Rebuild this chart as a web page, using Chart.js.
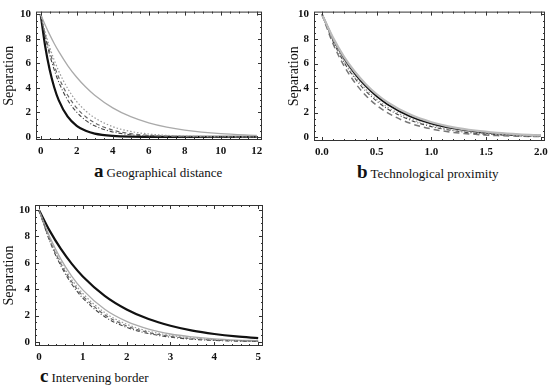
<!DOCTYPE html>
<html><head><meta charset="utf-8">
<script src="https://cdn.jsdelivr.net/npm/chart.js@4"></script>
<style>
body{margin:0;background:#fff;width:553px;height:385px;position:relative;overflow:hidden;font-family:"Liberation Serif","DejaVu Serif",serif;}
.pane{position:absolute;}
.cap{position:absolute;font-size:13px;color:#111;white-space:nowrap;line-height:20px;}
.cap b{font-size:19px;margin-right:3px;}
</style></head><body>
<div class="pane" style="left:0;top:0;width:276px;height:160px"><canvas id="ga"></canvas></div>
<div class="pane" style="left:276px;top:0;width:277px;height:160px"><canvas id="gb"></canvas></div>
<div class="pane" style="left:0;top:190px;width:276px;height:175px"><canvas id="gc"></canvas></div>
<div class="cap" style="left:94px;top:161px"><b>a</b>Geographical distance</div>
<div class="cap" style="left:357px;top:162px"><b>b</b>Technological proximity</div>
<div class="cap" style="left:40px;top:366px"><b>c</b>Intervening border</div>
<script>
// panel a: geographical distance
const xA = [0,0.25,0.5,0.75,1,1.5,2,2.5,3,4,5,6,7,8,10,12];
const aBlack   = [10,7.40,5.48,4.06,3.01,1.65,0.91,0.50,0.27,0.08,0.02,0.01,0,0,0,0];
const aGray    = [10,9.14,8.35,7.63,6.98,5.83,4.87,4.07,3.40,2.37,1.65,1.15,0.80,0.56,0.27,0.13];
const aDotted  = [10,8.56,7.33,6.28,5.38,3.95,2.89,2.12,1.56,0.84,0.45,0.24,0.13,0.07,0.02,0.01];
const aDashed  = [10,8.35,6.98,5.83,4.87,3.40,2.37,1.65,1.15,0.56,0.27,0.13,0.06,0.03,0.01,0];
const aDashDot = [10,8.19,6.70,5.49,4.49,3.01,2.02,1.35,0.91,0.41,0.18,0.08,0.04,0.02,0,0];

// panel b: technological proximity
const xB = [0,0.1,0.2,0.3,0.4,0.5,0.6,0.8,1.0,1.2,1.4,1.6,1.8,2.0];
const bBlack   = [10,8.03,6.44,5.17,4.15,3.33,2.67,1.72,1.11,0.71,0.46,0.30,0.19,0.12];
const bGray    = [10,8.11,6.57,5.33,4.32,3.50,2.84,1.86,1.22,0.80,0.53,0.35,0.23,0.15];
const bDotted  = [10,7.90,6.25,4.94,3.91,3.09,2.44,1.53,0.95,0.60,0.37,0.23,0.15,0.09];
const bDashDot = [10,7.83,6.13,4.80,3.75,2.94,2.30,1.41,0.86,0.53,0.32,0.20,0.12,0.07];
const bDashed  = [10,7.63,5.83,4.45,3.40,2.59,1.98,1.15,0.67,0.39,0.23,0.13,0.08,0.05];

// panel c: intervening border
const xC = [0,0.25,0.5,0.75,1,1.5,2,2.5,3,3.5,4,4.5,5];
const cBlack   = [10,8.40,7.05,5.92,4.97,3.50,2.47,1.74,1.23,0.86,0.61,0.43,0.30];
const cGray    = [10,7.93,6.28,4.98,3.95,2.48,1.56,0.98,0.61,0.39,0.24,0.15,0.10];
const cDotted  = [10,7.79,6.07,4.72,3.68,2.23,1.35,0.82,0.50,0.30,0.18,0.11,0.07];
const cDashed  = [10,7.69,5.92,4.55,3.50,2.07,1.22,0.72,0.43,0.25,0.15,0.09,0.05];
const cDashDot = [10,7.60,5.77,4.38,3.33,1.92,1.11,0.64,0.37,0.21,0.12,0.07,0.04];

// ticks
const sepTicks = [0,2,4,6,8,10];
const aXTicks = [0,2,4,6,8,10,12];
const bXTicks = [0,0.5,1,1.5,2];
const bXLabels = ["0.0","0.5","1.0","1.5","2.0"];
const cXTicks = [0,1,2,3,4,5];

const serif = "'Liberation Serif', 'DejaVu Serif', serif";
const pts = (xs, ys) => xs.map((x, i) => ({x, y: ys[i]}));
const styles = {
  black:   {borderColor:"#111", borderWidth:2.2},
  blackB:  {borderColor:"#111", borderWidth:1.8},
  gray:    {borderColor:"#aaa", borderWidth:1.3},
  grayB:   {borderColor:"#bbb", borderWidth:2.2},
  dotted:  {borderColor:"#999", borderWidth:1.2, borderDash:[1.5,2]},
  dashed:  {borderColor:"#666", borderWidth:1.2, borderDash:[4,3]},
  dashedB: {borderColor:"#777", borderWidth:1.5, borderDash:[6,4]},
  dashDot: {borderColor:"#444", borderWidth:1.1, borderDash:[4,2,1,2]}
};

// frame with inward ticks on all four sides
const framePlugin = {
  id: "frame",
  afterDraw(chart, args, o) {
    const {ctx, chartArea: a, scales: {x, y}} = chart;
    ctx.save();
    ctx.strokeStyle = "#333";
    ctx.lineWidth = 1;
    ctx.strokeRect(a.left + 0.5, a.top + 0.5, a.right - a.left - 1, a.bottom - a.top - 1);
    const marks = (scale, n, fn) => {
      const t = scale.ticks.map(k => k.value);
      const step = t[1] - t[0];
      for (let i = -n; i <= (t.length) * n; i++) {
        const v = t[0] + i * step / n;
        if (v < scale.min || v > scale.max) continue;
        fn(Math.round(scale.getPixelForValue(v)) + 0.5, i % n === 0 ? 4 : 2);
      }
    };
    ctx.beginPath();
    marks(x, o.nx || 5, (p, l) => {
      ctx.moveTo(p, a.bottom); ctx.lineTo(p, a.bottom - l);
      ctx.moveTo(p, a.top); ctx.lineTo(p, a.top + l);
    });
    marks(y, o.ny || 4, (p, l) => {
      ctx.moveTo(a.left, p); ctx.lineTo(a.left + l, p);
      ctx.moveTo(a.right, p); ctx.lineTo(a.right - l, p);
    });
    ctx.stroke();
    ctx.restore();
  }
};

const tickFont = {family: serif, weight: "bold", size: 11};

function makeChart(id, cfg) {
  new Chart(document.getElementById(id), {
    type: "line",
    data: {datasets: cfg.series.map(([xs, ys, st]) => Object.assign({
      data: pts(xs, ys), pointRadius: 0, fill: false, cubicInterpolationMode: "monotone"
    }, styles[st]))},
    options: {
      responsive: true, maintainAspectRatio: false, animation: false,
      layout: {padding: cfg.pad},
      plugins: {legend: {display: false}, tooltip: {enabled: false}, frame: {nx: cfg.nx, ny: 4}},
      scales: {
        x: {
          type: "linear", min: cfg.xmin, max: cfg.xmax,
          afterBuildTicks: s => { s.ticks = cfg.xticks.map(v => ({value: v})); },
          afterFit: s => { s.height = cfg.xh; },
          grid: {display: false, drawTicks: false}, border: {display: false},
          ticks: {font: tickFont, color: "#111", padding: 5, maxRotation: 0, autoSkip: false,
                  callback: (v, i) => cfg.xlabels ? cfg.xlabels[i] : v}
        },
        y: {
          min: cfg.ymin, max: cfg.ymax,
          afterBuildTicks: s => { s.ticks = sepTicks.map(v => ({value: v})); },
          afterFit: s => { s.width = cfg.yw; },
          grid: {display: false, drawTicks: false}, border: {display: false},
          ticks: {font: tickFont, color: "#111", padding: 5},
          title: {display: true, text: "Separation", color: "#111",
                  font: {family: serif, size: 14}, padding: {top: cfg.tpad, bottom: 0}}
        }
      }
    },
    plugins: [framePlugin]
  });
}

makeChart("ga", {
  series: [[xA, aGray, "gray"], [xA, aDotted, "dotted"], [xA, aDashed, "dashed"],
           [xA, aDashDot, "dashDot"], [xA, aBlack, "black"]],
  xmin: -0.26, xmax: 12.29, ymin: -0.25, ymax: 10.23, xticks: aXTicks, nx: 4,
  pad: {top: 3, right: 14, left: 0, bottom: 0}, xh: 20, yw: 36, tpad: 1
});
makeChart("gb", {
  series: [[xB, bGray, "grayB"], [xB, bDotted, "dotted"], [xB, bDashDot, "dashDot"],
           [xB, bDashed, "dashedB"], [xB, bBlack, "blackB"]],
  xmin: -0.073, xmax: 2.037, ymin: -0.31, ymax: 10.23, xticks: bXTicks, xlabels: bXLabels, nx: 5,
  pad: {top: 3, right: 8, left: 0, bottom: 0}, xh: 19, yw: 38, tpad: 10
});
makeChart("gc", {
  series: [[xC, cDotted, "dotted"], [xC, cDashed, "dashed"], [xC, cDashDot, "dashDot"],
           [xC, cGray, "gray"], [xC, cBlack, "black"]],
  xmin: -0.09, xmax: 5.11, ymin: -0.3, ymax: 10.38, xticks: cXTicks, nx: 5,
  pad: {top: 15, right: 13, left: 0, bottom: 0}, xh: 19, yw: 35, tpad: 1
});
</script>
</body></html>
